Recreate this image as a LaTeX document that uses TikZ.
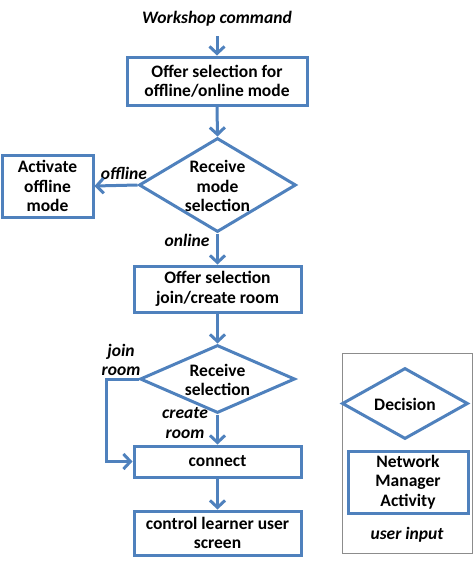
\documentclass[tikz,border=0pt]{standalone}
\usepackage{fontspec}
\setmainfont{Carlito}
\usetikzlibrary{shapes.geometric,arrows.meta}
\definecolor{lineblue}{RGB}{79,129,189}
\definecolor{framegray}{RGB}{140,140,140}
\tikzset{
  txt/.style={font=\fontsize{17.5}{19.5}\selectfont\bfseries, align=center, inner sep=0pt},
  lbl/.style={font=\fontsize{17.5}{19.5}\selectfont\bfseries\itshape, align=center, inner sep=0pt},
  proc/.style={draw=lineblue, line width=3pt, rectangle, inner sep=0pt,
    font=\fontsize{17.5}{19.5}\selectfont\bfseries, align=center},
  dec/.style={draw=lineblue, line width=3pt, diamond, inner sep=0pt},
  flow/.style={draw=lineblue, line width=3pt, -{Straight Barb[length=7pt,width=15pt]}},
}
\begin{document}
\begin{tikzpicture}[x=1pt,y=-1pt]
\useasboundingbox (0,0) rectangle (474,563);
% title
\node[lbl] (ws) at (217,19) {Workshop command};
\coordinate (wsend) at (217,36);
% boxes
\node[proc, minimum width=180pt, minimum height=48pt] (b1) at (217,81) {Offer selection for\\offline/online mode};
\node[dec, minimum width=157pt, minimum height=94pt] (d1) at (217.5,185) {};
\node[txt] (d1t) at (217.5,186) {Receive\\mode\\selection};
\node[proc, minimum width=91pt, minimum height=62pt] (act) at (47.5,186) {Activate\\offline\\mode};
\node[proc, minimum width=167pt, minimum height=46pt] (b3) at (217.5,289) {Offer selection\\join/create room};
\node[dec, minimum width=155pt, minimum height=68pt] (d2) at (217.5,379) {};
\node[txt] (d2t) at (217.5,380) {Receive\\selection};
\node[proc, minimum width=167pt, minimum height=31pt] (con) at (217.5,461.5) {connect};
\node[proc, minimum width=167pt, minimum height=44pt] (b5) at (217.5,533) {control learner user\\screen};
% labels
\node[lbl] (loff) at (124,173) {offline};
\node[lbl] (lon) at (187,240) {online};
\node[lbl] (ljoin) at (121,360) {join\\room};
\node[lbl] (lcreate) at (185,423) {create\\room};
% connectors
\draw[flow] (wsend) -- (b1.north);
\draw[flow] (b1.south) -- (d1.north);
\draw[flow] (d1.west) -- (act.east);
\draw[flow] (d1.south) -- (b3.north);
\draw[flow] (b3.south) -- (d2.north);
\draw[flow] (d2.south) -- (con.north);
\coordinate (jc) at (106,379);
\draw[flow] (d2.west) -- (jc) |- (con.west);
\draw[flow] (con.south) -- (b5.north);
% legend
\node[draw=framegray, line width=1pt, minimum width=130pt, minimum height=200pt, inner sep=0pt] (leg) at (407,453) {};
\node[dec, minimum width=126pt, minimum height=71pt] (ld) at (405,403.5) {};
\node[txt] (ldt) at (405,404) {Decision};
\node[proc, minimum width=120pt, minimum height=62pt] (lb) at (408,482) {Network\\Manager\\Activity};
\node[lbl] (lui) at (407,535) {user input};
\end{tikzpicture}
\end{document}
